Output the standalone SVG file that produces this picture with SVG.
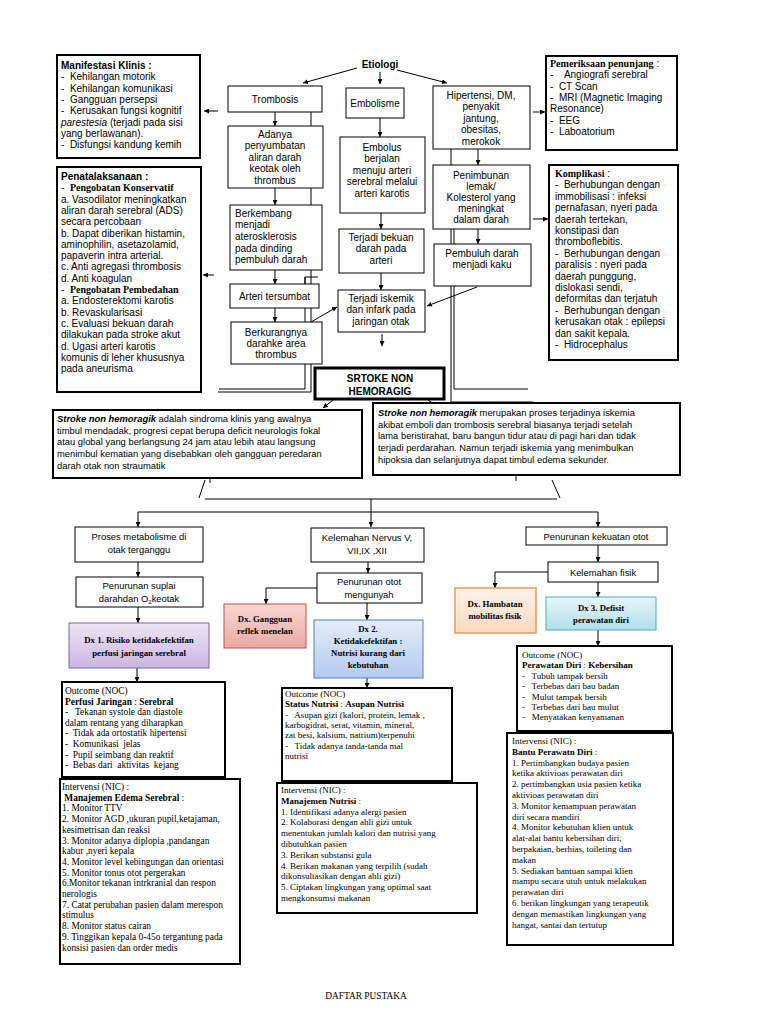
<svg xmlns="http://www.w3.org/2000/svg" width="768" height="1024" viewBox="0 0 768 1024">
<style>
text{white-space:pre}
.bx{fill:#fff;stroke:#000;stroke-width:1}
.b2{fill:#fff;stroke:#000;stroke-width:2}
.t{font-family:"Liberation Sans",Arial,sans-serif;font-size:10px;fill:#000}
.p{font-family:"Liberation Sans",Arial,sans-serif;font-size:9.4px;fill:#000}
.s{font-family:"Liberation Serif","Times New Roman",serif;font-size:9.4px;fill:#000}
.ss{font-family:"Liberation Serif","Times New Roman",serif;font-size:9px;fill:#000}
.dx{font-family:"Liberation Serif","Times New Roman",serif;font-size:8.8px;font-weight:bold;fill:#000;text-anchor:middle}
.c{text-anchor:middle}
.b{font-weight:bold}
.sb{font-family:"Liberation Serif","Times New Roman",serif;font-weight:bold}
.ln{fill:none;stroke:#000;stroke-width:1}
.ar{fill:none;stroke:#000;stroke-width:1;marker-end:url(#a)}
</style>
<defs>
<marker id="a" viewBox="0 0 10 10" refX="10" refY="5" markerWidth="5" markerHeight="5" orient="auto"><path d="M0,0L10,5L0,10z" fill="#000"/></marker>
<linearGradient id="gp" x1="0" y1="0" x2="0" y2="1"><stop offset="0" stop-color="#ece4f5"/><stop offset="1" stop-color="#cbb7e2"/></linearGradient>
<linearGradient id="gr" x1="0" y1="0" x2="0" y2="1"><stop offset="0" stop-color="#f8d6d3"/><stop offset="1" stop-color="#eaa9a4"/></linearGradient>
<linearGradient id="gb" x1="0" y1="0" x2="0" y2="1"><stop offset="0" stop-color="#e3ecf9"/><stop offset="1" stop-color="#b3cbf0"/></linearGradient>
<linearGradient id="go" x1="0" y1="0" x2="0" y2="1"><stop offset="0" stop-color="#fef3ea"/><stop offset="1" stop-color="#fcd9bd"/></linearGradient>
<linearGradient id="gc" x1="0" y1="0" x2="0" y2="1"><stop offset="0" stop-color="#e6f5f9"/><stop offset="1" stop-color="#b2deea"/></linearGradient>
</defs>
<rect width="768" height="1024" fill="#fff"/>

<g id="decor-lines">
<path class="ln" d="M311,112V392H218M305,284V277H318M305,277V389H219"/>
<path class="ln" d="M440,112H451V402H533M454,229V389H528"/>
</g>

<g id="connectors">
<path class="ar" d="M357,68L303,83"/>
<path class="ar" d="M380,72V84"/>
<path class="ar" d="M397,70L447,83"/>
<path class="ar" d="M218,111H204"/>
<path class="ar" d="M214,275H203"/>
<path class="ar" d="M533,112H545"/>
<path class="ar" d="M533,219H548"/>
<path class="ar" d="M275,112V126"/>
<path class="ar" d="M275,188V205"/>
<path class="ar" d="M275,270V284"/>
<path class="ar" d="M275,308V322"/>
<path class="ar" d="M380,118V137"/>
<path class="ar" d="M381,213V229"/>
<path class="ar" d="M381,273V290"/>
<path class="ar" d="M478,149V165"/>
<path class="ar" d="M478,229V244"/>
<path class="ar" d="M477,287L427,306"/>
<path class="ar" d="M311,322L337,307"/>
<path class="ar" d="M382,334V346"/>
<path class="ar" d="M333,400L323,408"/>
<path class="ar" d="M428,400L437,406"/>
<path class="ln" d="M210,478V483M516,475V481"/>
<path class="ln" d="M205,480L199,498M552,480L560,498M205,499H557"/>
<path class="ar" d="M371,499V527"/>
<path class="ln" d="M138,512H598"/>
<path class="ar" d="M138,512V527"/>
<path class="ar" d="M598,512V527"/>
<path class="ar" d="M138,562V577"/>
<path class="ar" d="M138,607V623"/>
<path class="ar" d="M137,668V682"/>
<path class="ar" d="M368,562V573"/>
<path class="ar" d="M367,603V620"/>
<path class="ar" d="M317,588H266V604"/>
<path class="ar" d="M367,678V688"/>
<path class="ar" d="M598,545V562"/>
<path class="ar" d="M548,572H495V588"/>
<path class="ar" d="M598,582V597"/>
<path class="ar" d="M598,630V646"/>
</g>

<g id="etiologi"><text class="t b c" x="380" y="68">Etiologi</text></g>

<g id="manifestasi">
<rect class="b2" x="57" y="55" width="143" height="103"/>
<text class="t" x="61" y="69"><tspan class="b">Manifestasi Klinis :</tspan><tspan x="61" dy="11.3">-  Kehilangan motorik</tspan><tspan x="61" dy="11.3">-  Kehilangan komunikasi</tspan><tspan x="61" dy="11.3">-  Gangguan persepsi</tspan><tspan x="61" dy="11.3">-  Kerusakan fungsi kognitif</tspan><tspan x="61" dy="11.3" font-style="italic">parestesia</tspan><tspan> (terjadi pada sisi</tspan><tspan x="61" dy="11.3">yang berlawanan).</tspan><tspan x="61" dy="11.3">-  Disfungsi kandung kemih</tspan></text>
</g>

<g id="penatalaksanaan">
<rect class="b2" x="57" y="167" width="144" height="225"/>
<text class="t" x="61" y="180"><tspan class="b">Penatalaksanaan :</tspan><tspan x="61" dy="11.3">-  </tspan><tspan class="sb">Pengobatan Konservatif</tspan><tspan x="61" dy="11.3">a. Vasodilator meningkatkan</tspan><tspan x="61" dy="11.3">aliran darah serebral (ADS)</tspan><tspan x="61" dy="11.3">secara percobaan</tspan><tspan x="61" dy="11.3">b. Dapat diberikan histamin,</tspan><tspan x="61" dy="11.3">aminophilin, asetazolamid,</tspan><tspan x="61" dy="11.3">papaverin intra arterial.</tspan><tspan x="61" dy="11.3">c. Anti agregasi thrombosis</tspan><tspan x="61" dy="11.3">d. Anti koagulan</tspan><tspan x="61" dy="11.3">-  </tspan><tspan class="sb">Pengobatan Pembedahan</tspan><tspan x="61" dy="11.3">a. Endosterektomi karotis</tspan><tspan x="61" dy="11.3">b. Revaskularisasi</tspan><tspan x="61" dy="11.3">c. Evaluasi bekuan darah</tspan><tspan x="61" dy="11.3">dilakukan pada stroke akut</tspan><tspan x="61" dy="11.3">d. Ugasi arteri karotis</tspan><tspan x="61" dy="11.3">komunis di leher khususnya</tspan><tspan x="61" dy="11.3">pada aneurisma</tspan></text>
</g>

<g id="trombosis"><rect class="bx" x="228" y="86" width="94" height="26"/><text class="t c" x="275" y="102.5">Trombosis</text></g>
<g id="embolisme"><rect class="bx" x="346" y="88" width="58" height="30"/><text class="t c" x="375" y="106.5">Embolisme</text></g>
<g id="hipertensi"><rect class="bx" x="433" y="86" width="97" height="63"/><text class="t c" x="481" y="98.5">Hipertensi, DM,<tspan x="481" dy="11.5">penyakit</tspan><tspan x="481" dy="11.5">jantung,</tspan><tspan x="481" dy="11.5">obesitas,</tspan><tspan x="481" dy="11.5">merokok</tspan></text></g>
<g id="adanya"><rect class="bx" x="228" y="126" width="95" height="62"/><text class="t c" x="275" y="137.5">Adanya<tspan x="275" dy="11.5">penyumbatan</tspan><tspan x="275" dy="11.5">aliran darah</tspan><tspan x="275" dy="11.5">keotak oleh</tspan><tspan x="275" dy="11.5">thrombus</tspan></text></g>
<g id="embolus"><rect class="bx" x="340" y="137" width="85" height="76"/><text class="t c" x="382" y="150.5">Embolus<tspan x="382" dy="11.5">berjalan</tspan><tspan x="382" dy="11.5">menuju arteri</tspan><tspan x="382" dy="11.5">serebral melalui</tspan><tspan x="382" dy="11.5">arteri karotis</tspan></text></g>
<g id="penimbunan"><rect class="bx" x="433" y="165" width="97" height="64"/><text class="t c" x="481" y="178.5">Penimbunan<tspan x="481" dy="11">lemak/</tspan><tspan x="481" dy="11">Kolesterol yang</tspan><tspan x="481" dy="11">meningkat</tspan><tspan x="481" dy="11">dalam darah</tspan></text></g>
<g id="berkembang"><rect class="bx" x="230" y="205" width="92" height="65"/><text class="t" x="235" y="216.5">Berkembang<tspan x="235" dy="11.7">menjadi</tspan><tspan x="235" dy="11.7">aterosklerosis</tspan><tspan x="235" dy="11.7">pada dinding</tspan><tspan x="235" dy="11.7">pembuluh darah</tspan></text></g>
<g id="bekuan"><rect class="bx" x="339" y="229" width="85" height="44"/><text class="t c" x="381" y="240.5">Terjadi bekuan<tspan x="381" dy="11.7">darah pada</tspan><tspan x="381" dy="11.7">arteri</tspan></text></g>
<g id="pembuluh"><rect class="bx" x="434" y="244" width="97" height="42"/><text class="t c" x="482" y="256.5">Pembuluh darah<tspan x="482" dy="11.7">menjadi kaku</tspan></text></g>
<g id="arteri"><rect class="bx" x="230" y="284" width="89" height="24"/><text class="t c" x="274.5" y="299.5">Arteri tersumbat</text></g>
<g id="iskemik"><rect class="bx" x="338" y="290" width="87" height="42"/><text class="t c" x="381" y="301.5">Terjadi iskemik<tspan x="381" dy="11.7">dan infark pada</tspan><tspan x="381" dy="11.7">jaringan otak</tspan></text></g>
<g id="berkurangnya"><rect class="bx" x="231" y="322" width="91" height="42"/><text class="t c" x="276" y="335.5">Berkurangnya<tspan x="276" dy="11.3">darahke area</tspan><tspan x="276" dy="11.3">thrombus</tspan></text></g>

<g id="penunjang">
<rect class="b2" x="546" y="56" width="131" height="94"/>
<text class="t" x="550" y="67"><tspan class="sb">Pemeriksaan penunjang</tspan><tspan> :</tspan><tspan x="550" dy="11.3">-    Angiografi serebral</tspan><tspan x="550" dy="11.3">-  CT Scan</tspan><tspan x="550" dy="11.3">-  MRI (Magnetic Imaging</tspan><tspan x="550" dy="11.3">Resonance)</tspan><tspan x="550" dy="11.3">-  EEG</tspan><tspan x="550" dy="11.3">-  Laboatorium</tspan></text>
</g>

<g id="komplikasi">
<rect class="b2" x="549" y="165" width="129" height="195"/>
<text class="t" x="555" y="177" font-size="9.7"><tspan class="sb">Komplikasi</tspan><tspan> :</tspan><tspan x="555" dy="11.4">-  Berhubungan dengan</tspan><tspan x="555" dy="11.4">immobilisasi : infeksi</tspan><tspan x="555" dy="11.4">pernafasan, nyeri pada</tspan><tspan x="555" dy="11.4">daerah tertekan,</tspan><tspan x="555" dy="11.4">konstipasi dan</tspan><tspan x="555" dy="11.4">thromboflebitis.</tspan><tspan x="555" dy="11.4">-  Berhubungan dengan</tspan><tspan x="555" dy="11.4">paralisis : nyeri pada</tspan><tspan x="555" dy="11.4">daerah punggung,</tspan><tspan x="555" dy="11.4">dislokasi sendi,</tspan><tspan x="555" dy="11.4">deformitas dan terjatuh</tspan><tspan x="555" dy="11.4">-  Berhubungan dengan</tspan><tspan x="555" dy="11.4">kerusakan otak : epilepsi</tspan><tspan x="555" dy="11.4">dan sakit kepala.</tspan><tspan x="555" dy="11.4">-  Hidrocephalus</tspan></text>
</g>

<g id="srtoke">
<rect x="315" y="368" width="129" height="31" fill="#fff" stroke="#000" stroke-width="3"/>
<text class="t b c" x="380" y="382">SRTOKE NON<tspan x="380" dy="12.5">HEMORAGIG</tspan></text>
</g>

<g id="definisi1">
<rect class="b2" x="53" y="410" width="309" height="68"/>
<text class="p" x="57" y="422"><tspan class="b" font-style="italic">Stroke non hemoragik</tspan><tspan> adalah sindroma klinis yang awalnya</tspan><tspan x="57" dy="11.7">timbul mendadak, progresi cepat berupa deficit neurologis fokal</tspan><tspan x="57" dy="11.7">atau global yang berlangsung 24 jam atau lebih atau langsung</tspan><tspan x="57" dy="11.7">menimbul kematian yang disebabkan oleh gangguan peredaran</tspan><tspan x="57" dy="11.7">darah otak non straumatik</tspan></text>
</g>

<g id="definisi2">
<rect class="b2" x="373" y="403" width="307" height="72"/>
<text class="p" x="378" y="416"><tspan class="b" font-style="italic">Stroke non hemoragik</tspan><tspan> merupakan proses terjadinya iskemia</tspan><tspan x="378" dy="11.7">akibat emboli dan trombosis serebral biasanya terjadi setelah</tspan><tspan x="378" dy="11.7">lama beristirahat, baru bangun tidur atau di pagi hari dan tidak</tspan><tspan x="378" dy="11.7">terjadi perdarahan. Namun terjadi iskemia yang menimbulkan</tspan><tspan x="378" dy="11.7">hipoksia dan selanjutnya dapat timbul edema sekunder.</tspan></text>
</g>

<g id="proses"><rect class="bx" x="75" y="527" width="128" height="35"/><text class="p c" x="139" y="540" font-size="9">Proses metabolisme di<tspan x="139" dy="13">otak terganggu</tspan></text></g>
<g id="suplai"><rect class="bx" x="76" y="577" width="127" height="30"/><text class="p c" x="139" y="589" font-size="9">Penurunan suplai<tspan x="139" dy="13">darahdan O</tspan><tspan font-size="6" dy="2">2</tspan><tspan dy="-2">keotak</tspan></text></g>
<g id="dx1"><rect x="69" y="623" width="140" height="45" fill="url(#gp)" stroke="#8064a2" stroke-width="1"/><text class="dx" x="139" y="643">Dx 1. Risiko ketidakefektifan<tspan x="139" dy="12.5">perfusi jaringan serebral</tspan></text></g>
<g id="nervus"><rect class="bx" x="311" y="528" width="113" height="34"/><text class="p c" x="367" y="541" font-size="9">Kelemahan Nervus V,<tspan x="367" dy="13">VII,IX ,XII</tspan></text></g>
<g id="mengunyah"><rect class="bx" x="317" y="573" width="105" height="30"/><text class="p c" x="369" y="585" font-size="9">Penurunan otot<tspan x="369" dy="13">mengunyah</tspan></text></g>
<g id="dxmenelan"><rect x="224" y="604" width="82" height="44" fill="url(#gr)" stroke="#c0504d" stroke-width="1"/><text class="dx" x="265" y="622">Dx. Gangguan<tspan x="265" dy="12">reflek menelan</tspan></text></g>
<g id="dx2"><rect x="314" y="620" width="109" height="58" fill="url(#gb)" stroke="#4f81bd" stroke-width="1"/><text class="dx" x="368" y="632">Dx 2.<tspan x="368" dy="12">Ketidakefektifan :</tspan><tspan x="368" dy="12">Nutrisi kurang dari</tspan><tspan x="368" dy="12">kebutuhan</tspan></text></g>
<g id="kekuatan"><rect class="bx" x="526" y="527" width="141" height="18"/><text class="p c" x="596" y="539.5" font-size="9">Penurunan kekuatan otot</text></g>
<g id="fisik"><rect class="bx" x="548" y="562" width="110" height="20"/><text class="p c" x="603" y="575.5" font-size="9">Kelemahan fisik</text></g>
<g id="dxmobilitas"><rect x="455" y="588" width="81" height="45" fill="url(#go)" stroke="#f79646" stroke-width="1.5"/><text class="dx" x="495" y="607">Dx. Hambatan<tspan x="495" dy="12">mobilitas fisik</tspan></text></g>
<g id="dx3"><rect x="546" y="597" width="110" height="33" fill="url(#gc)" stroke="#4bacc6" stroke-width="1"/><text class="dx" x="601" y="611">Dx 3. Defisit<tspan x="601" dy="12">perawatan diri</tspan></text></g>

<g id="noc1">
<rect class="b2" x="62" y="682" width="163" height="95"/>
<text class="s" x="65" y="694">Outcome (NOC)<tspan x="65" dy="10.6" class="b">Perfusi Jaringan</tspan><tspan> : </tspan><tspan class="b">Serebral</tspan><tspan x="65" dy="10.6">-   Tekanan systole dan diastole</tspan><tspan x="65" dy="10.6">dalam rentang yang diharapkan</tspan><tspan x="65" dy="10.6">-  Tidak ada ortostatik hipertensi</tspan><tspan x="65" dy="10.6">-  Komunikasi  jelas</tspan><tspan x="65" dy="10.6">-  Pupil seimbang dan reaktif</tspan><tspan x="65" dy="10.6">-  Bebas dari  aktivitas  kejang</tspan></text>
</g>
<g id="nic1">
<rect class="b2" x="60" y="779" width="180" height="185"/>
<text class="s" x="62" y="790">Intervensi (NIC) :<tspan x="62" dy="10.7" class="b"> Manajemen Edema Serebral</tspan><tspan> :</tspan><tspan x="62" dy="10.7">1. Monitor TTV</tspan><tspan x="62" dy="10.7">2. Monitor AGD ,ukuran pupil,ketajaman,</tspan><tspan x="62" dy="10.7">kesimetrisan dan reaksi</tspan><tspan x="62" dy="10.7">3. Monitor adanya diplopia ,pandangan</tspan><tspan x="62" dy="10.7">kabur ,nyeri kepala</tspan><tspan x="62" dy="10.7">4. Monitor level kebingungan dan orientasi</tspan><tspan x="62" dy="10.7">5. Monitor tonus otot pergerakan</tspan><tspan x="62" dy="10.7">6.Monitor tekanan intrkranial dan respon</tspan><tspan x="62" dy="10.7">nerologis</tspan><tspan x="62" dy="10.7">7. Catat perubahan pasien dalam merespon</tspan><tspan x="62" dy="10.7">stimulus</tspan><tspan x="62" dy="10.7">8. Monitor status cairan</tspan><tspan x="62" dy="10.7">9. Tinggikan kepala 0-45o tergantung pada</tspan><tspan x="62" dy="10.7">konsisi pasien dan order medis</tspan></text>
</g>

<g id="noc2">
<rect class="b2" x="282" y="688" width="170" height="93"/>
<text class="ss" x="285" y="697">Outcome (NOC)<tspan x="285" dy="10.3" class="b">Status Nutrisi</tspan><tspan> : </tspan><tspan class="b">Asupan Nutrisi</tspan><tspan x="285" dy="10.3">-   Asupan gizi (kalori, protein, lemak ,</tspan><tspan x="285" dy="10.3">karbogidrat, serat, vitamin, mineral,</tspan><tspan x="285" dy="10.3">zat besi, kalsium, natrium)terpenuhi</tspan><tspan x="285" dy="10.3">-   Tidak adanya tanda-tanda mal</tspan><tspan x="285" dy="10.3">nutrisi</tspan></text>
</g>
<g id="nic2">
<rect class="b2" x="277" y="783" width="200" height="130"/>
<text class="ss" x="281" y="793">Intervensi (NIC) :<tspan x="281" dy="10.8" class="b">Manajemen Nutrisi</tspan><tspan> :</tspan><tspan x="281" dy="10.8">1. Identifikasi adanya alergi pasien</tspan><tspan x="281" dy="10.8">2. Kolaborasi dengan ahli gizi untuk</tspan><tspan x="281" dy="10.8">menentukan jumlah kalori dan nutrisi yang</tspan><tspan x="281" dy="10.8">dibutuhkan pasien</tspan><tspan x="281" dy="10.8">3. Berikan substansi gula</tspan><tspan x="281" dy="10.8">4. Berikan makanan yang terpilih (sudah</tspan><tspan x="281" dy="10.8">dikonsultasikan dengan ahli gizi)</tspan><tspan x="281" dy="10.8">5. Ciptakan lingkungan yang optimal saat</tspan><tspan x="281" dy="10.8">mengkonsumsi makanan</tspan></text>
</g>

<g id="noc3">
<rect class="b2" x="517" y="646" width="155" height="85"/>
<text class="ss" x="522" y="658">Outcome (NOC)<tspan x="522" dy="10.4" class="b">Perawatan Diri</tspan><tspan> : </tspan><tspan class="b">Kebersihan</tspan><tspan x="522" dy="10.4">-   Tubuh tampak bersih</tspan><tspan x="522" dy="10.4">-   Terbebas dari bau badan</tspan><tspan x="522" dy="10.4">-   Mulut tampak bersih</tspan><tspan x="522" dy="10.4">-   Terbebas dari bau mulut</tspan><tspan x="522" dy="10.4">-   Menyatakan kenyamanan</tspan></text>
</g>
<g id="nic3">
<rect class="b2" x="507" y="733" width="166" height="212"/>
<text class="ss" x="512" y="744">Intervensi (NIC) :<tspan x="512" dy="10.8" class="b">Bantu Perawatn Diri</tspan><tspan> :</tspan><tspan x="512" dy="10.8">1. Pertimbangkan budaya pasien</tspan><tspan x="512" dy="10.8">ketika aktivioas perawatan diri</tspan><tspan x="512" dy="10.8">2. pertimbangkan usia pasien ketika</tspan><tspan x="512" dy="10.8">aktivioas perawatan diri</tspan><tspan x="512" dy="10.8">3. Monitor kemampuan perawatan</tspan><tspan x="512" dy="10.8">diri secara mandiri</tspan><tspan x="512" dy="10.8">4. Monitor kebutuhan klien untuk</tspan><tspan x="512" dy="10.8">alat-alat bantu kebersihan diri,</tspan><tspan x="512" dy="10.8">berpakaian, berhias, toileting dan</tspan><tspan x="512" dy="10.8">makan</tspan><tspan x="512" dy="10.8">5. Sediakan bantuan sampai klien</tspan><tspan x="512" dy="10.8">mampu secara utuh untuk melakukan</tspan><tspan x="512" dy="10.8">perawatan diri</tspan><tspan x="512" dy="10.8">6. berikan lingkungan yang terapeutik</tspan><tspan x="512" dy="10.8">dengan memastikan lingkungan yang</tspan><tspan x="512" dy="10.8">hangat, santai dan tertutup</tspan></text>
</g>

<g id="daftar"><text class="s c" x="366" y="999">DAFTAR PUSTAKA</text></g>
</svg>
